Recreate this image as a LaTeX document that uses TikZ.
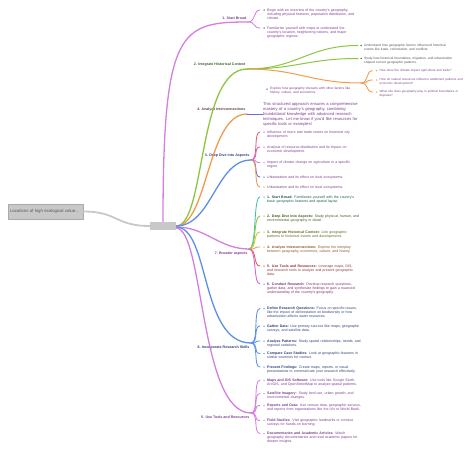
\documentclass[tikz,border=0pt]{standalone}
\usepackage{fontspec}
\setmainfont{Liberation Sans}
\usepackage{xcolor}
\definecolor{brPink}{HTML}{D47FE0}
\definecolor{brGreen}{HTML}{8CC63F}
\definecolor{brOrange}{HTML}{F29B4C}
\definecolor{brBlue}{HTML}{5C8FE6}
\definecolor{brGrey}{HTML}{C8C8C8}
\definecolor{brViolet}{HTML}{6B6BDB}
\definecolor{kRose}{HTML}{E0607E}
\definecolor{kMag}{HTML}{D45FCB}
\definecolor{kTeal}{HTML}{3BC2AE}
\definecolor{kYel}{HTML}{C9C93A}
\definecolor{kRed}{HTML}{E65A5A}
\definecolor{txPurple}{HTML}{7B3D8F}
\definecolor{txGrey}{HTML}{555555}
\definecolor{txBlue}{HTML}{2E3F75}
\definecolor{txGreen}{HTML}{35602A}
\definecolor{txBrown}{HTML}{5E3F3A}
\hyphenpenalty=10000
\exhyphenpenalty=10000

\begin{document}
\begin{tikzpicture}[x=1pt,y=-1pt,
  lbl/.style={font=\fontsize{3.6}{4.3}\selectfont\bfseries,inner xsep=1.5pt,inner ysep=2.3pt},
  itm/.style={font=\fontsize{3.55}{4.1}\selectfont,align=left,anchor=north west,inner sep=0pt,text width=#1},
  itm/.default=92pt,
  small/.style={font=\fontsize{3.25}{3.9}\selectfont},
  tiny/.style={font=\fontsize{3.1}{3.8}\selectfont},
  trunk/.style={draw=#1,line width=1.3pt,line cap=round},
  sub/.style={draw=#1,line width=1pt,line cap=round},
  br/.style={draw=#1,line width=0.85pt,line cap=round}]
\useasboundingbox (0,0) rectangle (474,453);

% branch labels
\node[lbl,anchor=south east,text=txPurple] (b1) at (248,22) {1. Start Broad};
\node[lbl,anchor=south east,text=txGreen] (b2) at (247,69) {2. Integrate Historical Context};
\node[lbl,anchor=south east,text=txBrown] (b4) at (247,114) {4. Analyze Interconnections};
\node[lbl,anchor=south east,text=txBlue] (b3) at (251,160) {3. Deep Dive into Aspects};
\node[lbl,anchor=north east,text=txPurple] (b7) at (249,249) {7. Broader aspects};
\node[lbl,anchor=north east,text=txBlue] (b6) at (251,343) {6. Incorporate Research Skills};
\node[lbl,anchor=north east,text=txPurple] (b5) at (251,413) {5. Use Tools and Resources};

% 1
\node[itm=90pt,text=txPurple] (k11) at (267,8.4) {Begin with an overview of the country's geography, including physical features, population distribution, and climate.};
\node[itm=90pt,text=txPurple] (k12) at (267,26.4) {Familiarize yourself with maps to understand the country's location, neighboring nations, and major geographic regions.};

% 2
\node[itm=88pt,small,text=txGrey] (k21) at (364,43.9) {Understand how geographic factors influenced historical events like trade, colonization, and conflicts.};
\node[itm=88pt,small,text=txGrey] (k22) at (364,56.9) {Study how historical boundaries, migration, and urbanization shaped current geographic patterns.};
\node[itm=90pt,small,text=txPurple] (k2x) at (270,87.4) {Explore how geography interacts with other factors like history, culture, and economics.};
\coordinate (xo) at (361,83);
\node[itm=88pt,tiny,text=txPurple!80!gray] (k2a) at (379.5,69.1) {How does the climate impact agriculture and trade?};
\node[itm=88pt,tiny,text=txPurple!80!gray] (k2b) at (379.5,78.4) {How do natural resources influence settlement patterns and economic development?};
\node[itm=88pt,tiny,text=txPurple!80!gray] (k2c) at (379.5,90.4) {What role does geography play in political boundaries or disputes?};

% 4
\node[itm=97pt,anchor=west,font=\fontsize{4.1}{5}\selectfont,text=txPurple] (blk) at (263,114) {This structured approach ensures a comprehensive mastery of a country's geography, combining foundational knowledge with advanced research techniques. Let me know if you'd like resources for specific tools or examples!};

% 3
\node[itm=88pt,text=txPurple] (k31) at (267,130.4) {Influence of rivers and trade routes on historical city development.};
\node[itm=88pt,text=txPurple] (k32) at (267,145.4) {Analysis of resource distribution and its impact on economic development.};
\node[itm=88pt,text=txPurple] (k33) at (267,160.9) {Impact of climate change on agriculture in a specific region.};
\node[itm=92pt,text=txPurple] (k34) at (267,175.4) {Urbanization and its effect on local ecosystems.};
\node[itm=92pt,text=txPurple] (k35) at (267,185.4) {Urbanization and its effect on local ecosystems.};

% 7
\node[itm=92pt,text=kTeal!45!black] (k71) at (267,195.4) {\textbf{1. Start Broad:} Familiarize yourself with the country's basic geographic features and spatial layout.};
\node[itm=92pt,text=brGreen!45!black] (k72) at (267,214.4) {\textbf{2. Deep Dive into Aspects:} Study physical, human, and environmental geography in detail.};
\node[itm=92pt,text=kYel!50!black] (k73) at (267,230.4) {\textbf{3. Integrate Historical Context:} Link geographic patterns to historical events and developments.};
\node[itm=92pt,text=brOrange!55!black] (k74) at (267,245.4) {\textbf{4. Analyze Interconnections:} Explore the interplay between geography, economics, culture, and history.};
\node[itm=92pt,text=kRed!60!black] (k75) at (267,264.4) {\textbf{5. Use Tools and Resources:} Leverage maps, GIS, and research tools to analyze and present geographic data.};
\node[itm=92pt,text=kMag!55!black] (k76) at (267,282.4) {\textbf{6. Conduct Research:} Develop research questions, gather data, and synthesize findings to gain a nuanced understanding of the country's geography.};

% 6
\node[itm=96pt,text=txBlue] (k61) at (267,306.9) {\textbf{Define Research Questions:} Focus on specific issues, like the impact of deforestation on biodiversity or how urbanization affects water resources.};
\node[itm=96pt,text=txBlue] (k62) at (267,324.4) {\textbf{Gather Data:} Use primary sources like maps, geographic surveys, and satellite data.};
\node[itm=96pt,text=txBlue] (k63) at (267,339.4) {\textbf{Analyze Patterns:} Study spatial relationships, trends, and regional variations.};
\node[itm=96pt,text=txBlue] (k64) at (267,351.9) {\textbf{Compare Case Studies:} Look at geographic features in similar countries for context.};
\node[itm=96pt,text=txBlue] (k65) at (267,365.4) {\textbf{Present Findings:} Create maps, reports, or visual presentations to communicate your research effectively.};

% 5
\node[itm=96pt,text=txPurple] (k51) at (267,378.4) {\textbf{Maps and GIS Software:} Use tools like Google Earth, ArcGIS, and OpenStreetMap to analyze spatial patterns.};
\node[itm=96pt,text=txPurple] (k52) at (267,391.9) {\textbf{Satellite Imagery:} Study land use, urban growth, and environmental changes.};
\node[itm=96pt,text=txPurple] (k53) at (267,403.9) {\textbf{Reports and Data:} Use census data, geographic surveys, and reports from organizations like the UN or World Bank.};
\node[itm=96pt,text=txPurple] (k54) at (267,418.9) {\textbf{Field Studies:} Visit geographic landmarks or conduct surveys for hands-on learning.};
\node[itm=96pt,text=txPurple] (k55) at (267,431.9) {\textbf{Documentaries and Academic Articles:} Watch geography documentaries and read academic papers for deeper insights.};

% root and centre
\node[fill=brGrey,draw=brGrey!85!black,line width=0.3pt,minimum width=75pt,minimum height=15pt,inner xsep=2pt,text width=71pt,font=\fontsize{4.3}{5}\selectfont,text=txGrey] (root) at (45.5,211.5) {Locations of high ecological value...};
\coordinate (cpos) at (163,226);

% trunks
\draw[trunk=brGrey,line width=1.8pt] (root.east) .. controls +(35,0) and +(-35,0) .. (cpos -| 150,0);
\draw[trunk=brPink] (cpos |- 0,222) .. controls +(0,-192) and +(-68,0) .. (b1.south east);
\draw[trunk=brGreen] (176,226) .. controls +(30,0) and +(-50,0) .. (b2.south east);
\draw[trunk=brOrange] (176,226) .. controls +(32,0) and +(-40,0) .. (b4.south east);
\draw[trunk=brBlue] (176,226) .. controls +(36,0) and +(-35,0) .. (b3.south east);
\draw[trunk=brPink] (176,227) .. controls +(30,0) and +(-30,0) .. (b7.north east);
\draw[trunk=brBlue] (176,227) .. controls +(34,0) and +(-51,0) .. (b6.north east);
\draw[trunk=brPink] (176,228) .. controls +(28,0) and +(-52,0) .. (b5.north east);
\node[fill=brGrey,minimum width=26pt,minimum height=8pt,inner sep=0pt] (ctr) at (cpos) {};

% sub branches
\foreach \k in {k21,k22}
  \draw[sub=brGreen] (b2.south east) .. controls +(50,0) and +(-50,0) .. ([xshift=-6pt,yshift=-1.6pt]\k.north west);
\draw[sub=brOrange] (b2.south east) .. controls +(50,0) and +(-50,0) .. (xo);
\draw[sub=brViolet] (b4.south east) -- (blk.west);

% brackets
\foreach \k in {k11,k12}
  \draw[br=brPink] (b1.south east) .. controls +(8,0) and +(-7,0) .. ([xshift=-7pt,yshift=-1.6pt]\k.north west);
\foreach \k in {k2a,k2b,k2c}
  \draw[br=brOrange] (xo) .. controls +(8,0) and +(-7,0) .. ([xshift=-7pt,yshift=-1.6pt]\k.north west);
\foreach \k/\c in {k31/kRose,k32/kMag,k33/brPink,k34/brViolet,k35/brOrange}
  \draw[br=\c] (b3.south east) .. controls +(8,0) and +(-7,0) .. ([xshift=-7pt,yshift=-1.6pt]\k.north west);
\foreach \k/\c in {k71/kTeal,k72/brGreen,k73/kYel,k74/brOrange,k75/kRed,k76/kMag}
  \draw[br=\c] (b7.north east) .. controls +(8,0) and +(-7,0) .. ([xshift=-7pt,yshift=-1.6pt]\k.north west);
\foreach \k in {k61,k62,k63,k64,k65}
  \draw[br=brBlue] (b6.north east) .. controls +(8,0) and +(-7,0) .. ([xshift=-7pt,yshift=-1.6pt]\k.north west);
\foreach \k in {k51,k52,k53,k54,k55}
  \draw[br=brPink] (b5.north east) .. controls +(8,0) and +(-7,0) .. ([xshift=-7pt,yshift=-1.6pt]\k.north west);

% bullets
\foreach \k/\c in {k11/txPurple,k12/txPurple,k21/txGreen,k22/txGreen,k2x/txPurple,k2a/brOrange,k2b/brOrange,k2c/brOrange,
    k31/kRose,k32/kMag,k33/brPink,k34/brViolet,k35/brOrange,k71/kTeal,k72/brGreen,k73/kYel,k74/brOrange,k75/kRed,k76/kMag,
    k61/brBlue,k62/brBlue,k63/brBlue,k64/brBlue,k65/brBlue,k51/brPink,k52/brPink,k53/brPink,k54/brPink,k55/brPink}
  \fill[\c] ([xshift=-3pt,yshift=-1.6pt]\k.north west) circle (0.75pt);
\end{tikzpicture}
\end{document}
